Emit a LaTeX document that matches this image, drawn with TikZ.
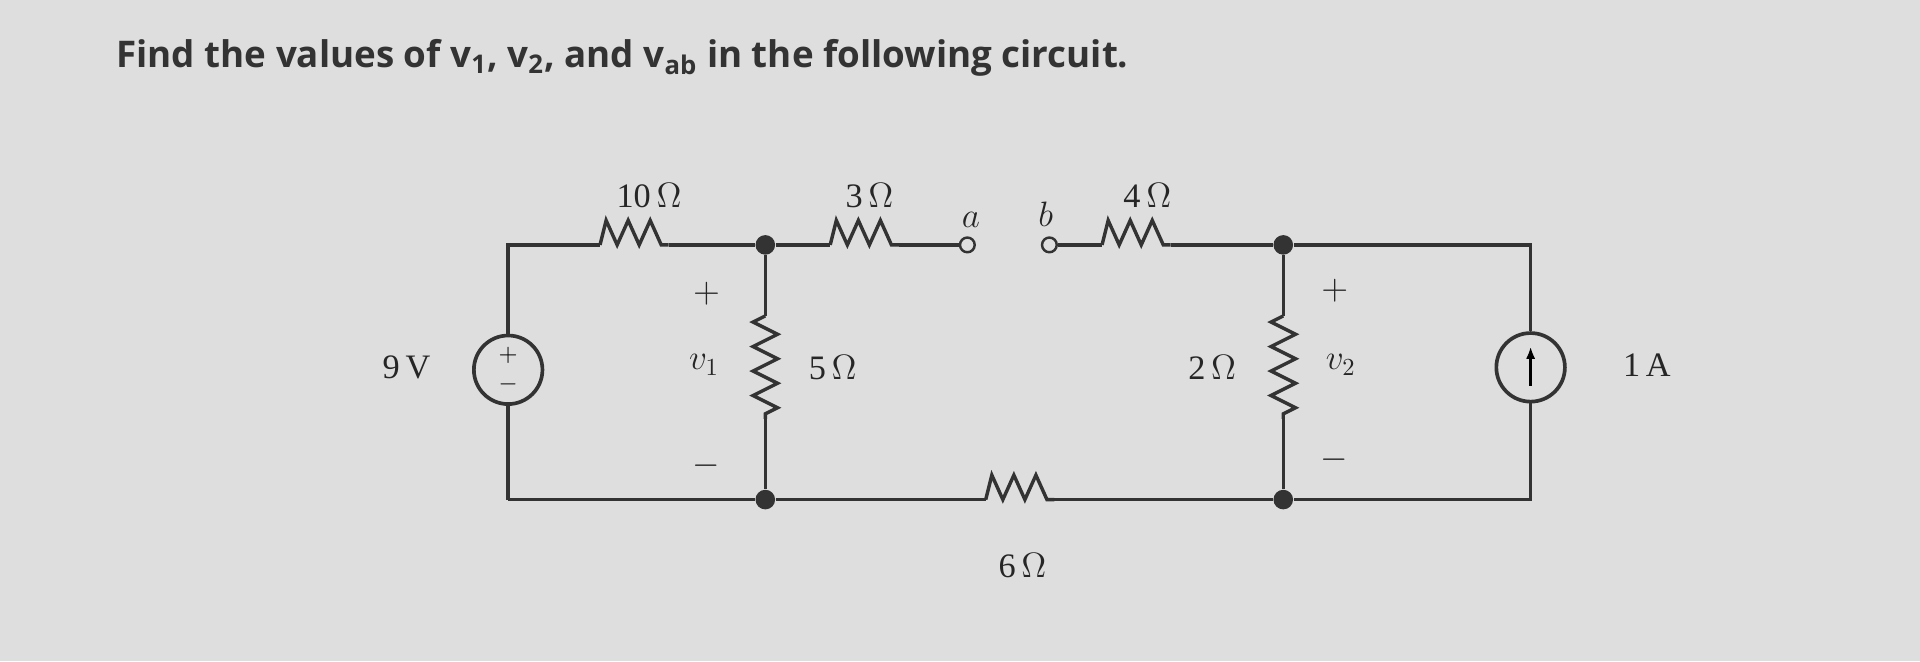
\documentclass[tikz,border=0pt]{standalone}
\usepackage{fontspec}
\usetikzlibrary{arrows.meta}
\setmainfont{Liberation Serif}
\newfontfamily\titlefont{Open Sans}
\begin{document}
\begin{tikzpicture}[x=0.5pt,y=-0.5pt,
  wire/.style={line width=1.4pt,color=black!80},
  dotn/.style={circle,fill=black!80,inner sep=0pt,minimum size=8pt},
  term/.style={circle,draw=black!80,line width=1pt,fill=none,inner sep=0pt,minimum size=6pt},
  lab/.style={font=\fontsize{14}{16}\selectfont,text=black!85},
  src/.style={circle,draw=black!80,line width=1.5pt,minimum size=28pt,inner sep=0pt},
  hres/.pic={\draw[wire] (0,0)--(5,-20)--(14,0)--(23,-20)--(32,0)--(41,-20)--(50,0)--(56,0);},
  vres/.pic={\draw[wire] (0,0)--(-10,5)--(10,15)--(-10,25)--(10,35)--(-10,45)--(10,55)--(-10,65)--(10,75)--(0,80)--(0,84);}]
\fill[black!13] (0,0) rectangle (1568,540);
\useasboundingbox (0,0) rectangle (1568,540);
\node[anchor=west,font=\titlefont\bfseries\fontsize{15}{17}\selectfont,text=black!80] (title) at (88,47) {Find the values of v\textsubscript{1}, v\textsubscript{2}, and v\textsubscript{ab} in the following circuit.};
\coordinate (tl) at (415,200);
\coordinate (bl) at (415,408);
\node[dotn] (n1) at (625,200) {};
\node[dotn] (n2) at (625,408) {};
\node[dotn] (n3) at (1048,200) {};
\node[dotn] (n4) at (1048,408) {};
\coordinate (tr) at (1250,200);
\coordinate (br) at (1250,408);
\node[term] (a) at (790,200) {};
\node[term] (b) at (857,200) {};
\node[src] (vs) at (415,302) {};
\node[src] (cs) at (1250,300) {};
\draw[wire] (bl) -- (vs.south);
\draw[wire] (vs.north) -- (tl) -- (490,200);
\pic at (490,200) {hres};
\draw[wire] (546,200) -- (n1);
\draw[wire] (n1) -- (678,200);
\pic at (678,200) {hres};
\draw[wire] (734,200) -- (a);
\draw[wire] (b) -- (900,200);
\pic at (900,200) {hres};
\draw[wire] (956,200) -- (n3) -- (tr) -- (cs.north);
\draw[wire] (cs.south) -- (br) -- (n4);
\draw[wire] (n1) -- (625,258);
\pic at (625,258) {vres};
\draw[wire] (625,342) -- (n2);
\draw[wire] (n3) -- (1048,258);
\pic at (1048,258) {vres};
\draw[wire] (1048,342) -- (n4);
\draw[wire] (bl) -- (n2) -- (805,408);
\pic at (805,408) {hres};
\draw[wire] (861,408) -- (n4);
\node[font=\fontsize{10}{11}\selectfont] (vp) at (415,290) {$+$};
\node[font=\fontsize{10}{11}\selectfont] (vm) at (415,314) {$-$};
\draw[line width=1.3pt,-{Latex[length=5pt]}] (1250,315) -- (1250,283);
\node[lab] (l10) at (530,160) {10\,$\Omega$};
\node[lab] (l3) at (710,160) {3\,$\Omega$};
\node[lab] (l4) at (937,160) {4\,$\Omega$};
\node[lab] (l5) at (680,300) {5\,$\Omega$};
\node[lab] (l2) at (990,300) {2\,$\Omega$};
\node[lab] (l6) at (835,462) {6\,$\Omega$};
\node[lab] (l9) at (332,300) {9\,V};
\node[lab] (l1a) at (1345,298) {1\,A};
\node[lab] (la) at (793,180) {$a$};
\node[lab] (lb) at (854,175) {$b$};
\node[lab] (lv1) at (575,298) {$v_1$};
\node[lab] (lv1p) at (577,240) {$+$};
\node[lab] (lv1m) at (577,380) {$-$};
\node[lab] (lv2) at (1095,298) {$v_2$};
\node[lab] (lv2p) at (1090,237) {$+$};
\node[lab] (lv2m) at (1090,375) {$-$};
\end{tikzpicture}
\end{document}
